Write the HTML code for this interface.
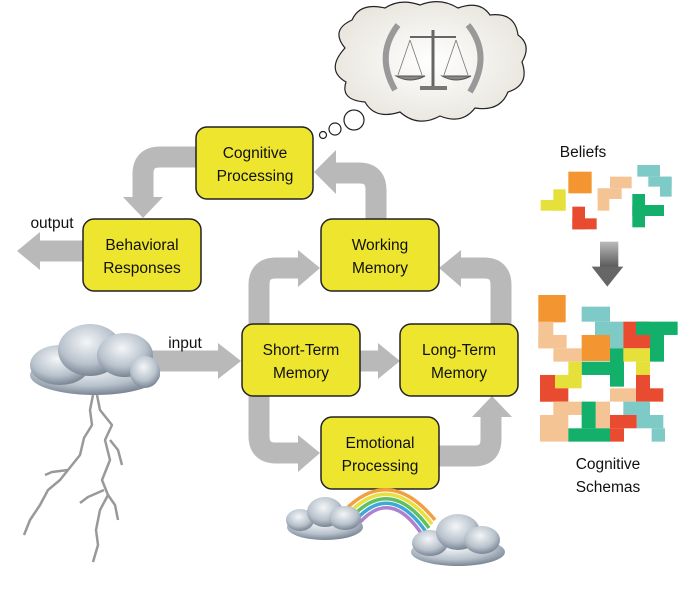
<!DOCTYPE html>
<html><head><meta charset="utf-8"><style>
html,body{margin:0;padding:0;background:#fff;}
svg{display:block;}
text{font-family:"Liberation Sans",sans-serif;font-size:15.5px;fill:#111;}
</style></head><body>
<svg width="685" height="593" viewBox="0 0 685 593" xmlns="http://www.w3.org/2000/svg">
<defs>
<radialGradient id="cl" cx="45%" cy="35%" r="70%"><stop offset="0" stop-color="#f4f6f8"/><stop offset="0.6" stop-color="#b8c2cc"/><stop offset="1" stop-color="#6c7888"/></radialGradient>
<radialGradient id="th" cx="50%" cy="50%" r="60%"><stop offset="0" stop-color="#ffffff"/><stop offset="1" stop-color="#e6e3da"/></radialGradient>
<linearGradient id="ar" x1="0" y1="0" x2="0" y2="1"><stop offset="0" stop-color="#bbb"/><stop offset="1" stop-color="#555"/></linearGradient>
</defs>

<g fill="none" stroke="#b9b9b9" stroke-width="21">
<path d="M196 157 H160 Q143 157 143 174 V200"/>
<path d="M376 219 V190 Q376 173 359 173 H334"/>
<path d="M83 251 H38"/>
<path d="M150 361 H220"/>
<path d="M360 361 H380"/>
<path d="M259 324 V285 Q259 268 276 268 H300"/>
<path d="M501 324 V285 Q501 268 484 268 H460"/>
<path d="M259 396 V436 Q259 453 276 453 H300"/>
<path d="M439 456 H474 Q491 456 491 439 V416"/>
</g>
<g fill="#b9b9b9">
<polygon points="123,197 163,197 143,218"/>
<polygon points="336,150 336,194 314,172"/>
<polygon points="40,232 40,270 17,251"/>
<polygon points="218,343 218,379 241,361"/>
<polygon points="378,343 378,379 400,361"/>
<polygon points="298,250 298,287 320,268"/>
<polygon points="461,250 461,287 439,268"/>
<polygon points="298,435 298,472 320,453"/>
<polygon points="472,417 512,417 492,396"/>
</g>

<g fill="#ede52e" stroke="#222" stroke-width="1.5">
<rect x="196" y="127" width="117" height="72" rx="11"/>
<rect x="83" y="219" width="118" height="72" rx="11"/>
<rect x="321" y="219" width="118" height="72" rx="11"/>
<rect x="242" y="324" width="118" height="72" rx="11"/>
<rect x="400" y="324" width="118" height="72" rx="11"/>
<rect x="321" y="417" width="118" height="72" rx="11"/>
</g>
<g text-anchor="middle">
<text x="255" y="158">Cognitive</text><text x="255" y="181">Processing</text>
<text x="142" y="250">Behavioral</text><text x="142" y="273">Responses</text>
<text x="380" y="250">Working</text><text x="380" y="273">Memory</text>
<text x="301" y="355">Short-Term</text><text x="301" y="378">Memory</text>
<text x="459" y="355">Long-Term</text><text x="459" y="378">Memory</text>
<text x="380" y="448">Emotional</text><text x="380" y="471">Processing</text>
<text x="52" y="228">output</text>
<text x="185" y="348">input</text>
<text x="583" y="157">Beliefs</text>
<text x="608" y="469">Cognitive</text><text x="608" y="492">Schemas</text>
</g>

<g fill="url(#th)" stroke="#222" stroke-width="1.2">
<path d="M345 48 Q330 30 352 20 Q360 2 385 8 Q400 -2 420 5 Q440 -3 458 8 Q480 0 490 15 Q515 12 518 35 Q532 45 522 62 Q530 85 508 92 Q500 112 475 108 Q462 125 440 116 Q418 128 400 112 Q375 120 365 102 Q340 100 346 82 Q325 70 345 48 Z"/>
<circle cx="354" cy="120" r="10" fill="#fff"/>
<circle cx="335" cy="129" r="6" fill="#fff"/>
<circle cx="323" cy="135" r="3.5" fill="#fff"/>
</g>
<g stroke="#777" fill="none">
<path d="M398 25 Q375 55 395 90" stroke-width="6" stroke="#999"/>
<path d="M468 25 Q492 55 470 92" stroke-width="6" stroke="#999"/>
<line x1="433" y1="30" x2="433" y2="88" stroke-width="3" stroke="#666"/>
<line x1="410" y1="37" x2="456" y2="37" stroke-width="2" stroke="#666"/>
<path d="M410 40 L398 75 M410 40 L422 75 M456 40 L444 75 M456 40 L468 75" stroke-width="0.8"/>
<path d="M396 76 Q410 84 425 76 Z M442 76 Q456 84 471 76 Z" fill="#888" stroke="#555"/>
<rect x="420" y="86" width="27" height="4" fill="#777" stroke="none"/>
</g>

<g fill="url(#cl)">
<ellipse cx="95" cy="375" rx="65" ry="20"/>
<ellipse cx="60" cy="365" rx="30" ry="20"/>
<ellipse cx="90" cy="350" rx="32" ry="26"/>
<ellipse cx="125" cy="355" rx="28" ry="22"/>
<ellipse cx="145" cy="372" rx="15" ry="16"/>
</g>
<g fill="none" stroke="#999" stroke-width="2.5" stroke-linejoin="bevel">
<polyline points="93,395 90,410 92,425 84,438 80,455 68,470 60,480 48,490 40,505 30,520 24,535"/>
<polyline points="97,395 100,410 112,425 105,440 110,460 102,480 108,495 100,510 96,530 98,545 93,562"/>
<polyline points="110,440 118,450 122,465"/>
<polyline points="68,470 52,472 45,475"/>
<polyline points="104,490 88,497 80,503"/>
<polyline points="108,495 115,505 118,520"/>
</g>

<g fill="none" stroke-width="3.5">
<path d="M345 510 Q390 465 435 520" stroke="#f0a040"/>
<path d="M348 514 Q390 470 432 524" stroke="#e8e040"/>
<path d="M351 518 Q390 475 429 528" stroke="#60c060"/>
<path d="M354 522 Q390 480 426 532" stroke="#40a8d8"/>
<path d="M357 526 Q390 485 423 536" stroke="#b080d0"/>
</g>
<g fill="url(#cl)">
<ellipse cx="325" cy="527" rx="38" ry="13"/>
<ellipse cx="300" cy="520" rx="14" ry="11"/>
<ellipse cx="325" cy="512" rx="18" ry="15"/>
<ellipse cx="345" cy="518" rx="16" ry="12"/>
<ellipse cx="458" cy="552" rx="47" ry="14"/>
<ellipse cx="430" cy="543" rx="18" ry="13"/>
<ellipse cx="458" cy="532" rx="22" ry="18"/>
<ellipse cx="482" cy="540" rx="18" ry="14"/>
</g>

<g transform="translate(520,140) scale(0.3333)">
<rect x="145" y="95" width="70" height="65" fill="#f39530"/>
<rect x="100" y="148" width="37" height="64" fill="#e5e03a"/>
<rect x="62" y="180" width="75" height="32" fill="#e5e03a"/>
<rect x="157" y="200" width="38" height="68" fill="#e84b30"/>
<rect x="157" y="235" width="73" height="33" fill="#e84b30"/>
<rect x="270" y="110" width="65" height="35" fill="#f5c495"/>
<rect x="233" y="145" width="72" height="32" fill="#f5c495"/>
<rect x="233" y="145" width="35" height="67" fill="#f5c495"/>
<rect x="352" y="75" width="68" height="35" fill="#7ecac6"/>
<rect x="385" y="110" width="70" height="30" fill="#7ecac6"/>
<rect x="420" y="110" width="35" height="60" fill="#7ecac6"/>
<rect x="337" y="162" width="38" height="100" fill="#12b06a"/>
<rect x="337" y="195" width="95" height="33" fill="#12b06a"/>
<rect x="240" y="305" width="55" height="80" fill="url(#ar)"/>
<polygon points="215,380 310,380 262,440" fill="#666"/>

<rect x="55" y="465" width="82" height="82" fill="#f39530"/>
<rect x="185" y="500" width="85" height="45" fill="#7ecac6"/>
<rect x="225" y="545" width="85" height="80" fill="#7ecac6"/>
<rect x="310" y="545" width="80" height="80" fill="#e84b30"/>
<rect x="348" y="545" width="125" height="40" fill="#12b06a"/>
<rect x="390" y="585" width="42" height="80" fill="#12b06a"/>
<rect x="55" y="545" width="45" height="80" fill="#f5c495"/>
<rect x="55" y="585" width="85" height="40" fill="#f5c495"/>
<rect x="100" y="625" width="85" height="40" fill="#f5c495"/>
<rect x="185" y="585" width="85" height="78" fill="#f39530"/>
<rect x="270" y="625" width="42" height="115" fill="#12b06a"/>
<rect x="185" y="665" width="127" height="40" fill="#12b06a"/>
<rect x="310" y="625" width="80" height="40" fill="#e5e03a"/>
<rect x="348" y="665" width="42" height="40" fill="#e5e03a"/>
<rect x="145" y="665" width="40" height="40" fill="#e5e03a"/>
<rect x="105" y="705" width="80" height="40" fill="#e5e03a"/>
<rect x="60" y="705" width="45" height="80" fill="#e84b30"/>
<rect x="60" y="745" width="85" height="40" fill="#e84b30"/>
<rect x="348" y="705" width="42" height="80" fill="#e84b30"/>
<rect x="390" y="745" width="40" height="40" fill="#e84b30"/>
<rect x="270" y="745" width="78" height="40" fill="#f5c495"/>
<rect x="100" y="785" width="127" height="40" fill="#f5c495"/>
<rect x="60" y="825" width="85" height="80" fill="#f5c495"/>
<rect x="227" y="785" width="43" height="80" fill="#f5c495"/>
<rect x="310" y="785" width="80" height="40" fill="#7ecac6"/>
<rect x="350" y="825" width="80" height="40" fill="#7ecac6"/>
<rect x="395" y="865" width="40" height="40" fill="#7ecac6"/>
<rect x="185" y="785" width="42" height="80" fill="#12b06a"/>
<rect x="145" y="865" width="125" height="40" fill="#12b06a"/>
<rect x="270" y="825" width="80" height="40" fill="#e84b30"/>
<rect x="270" y="865" width="42" height="40" fill="#e84b30"/>
</g>
</svg>
</body></html>
